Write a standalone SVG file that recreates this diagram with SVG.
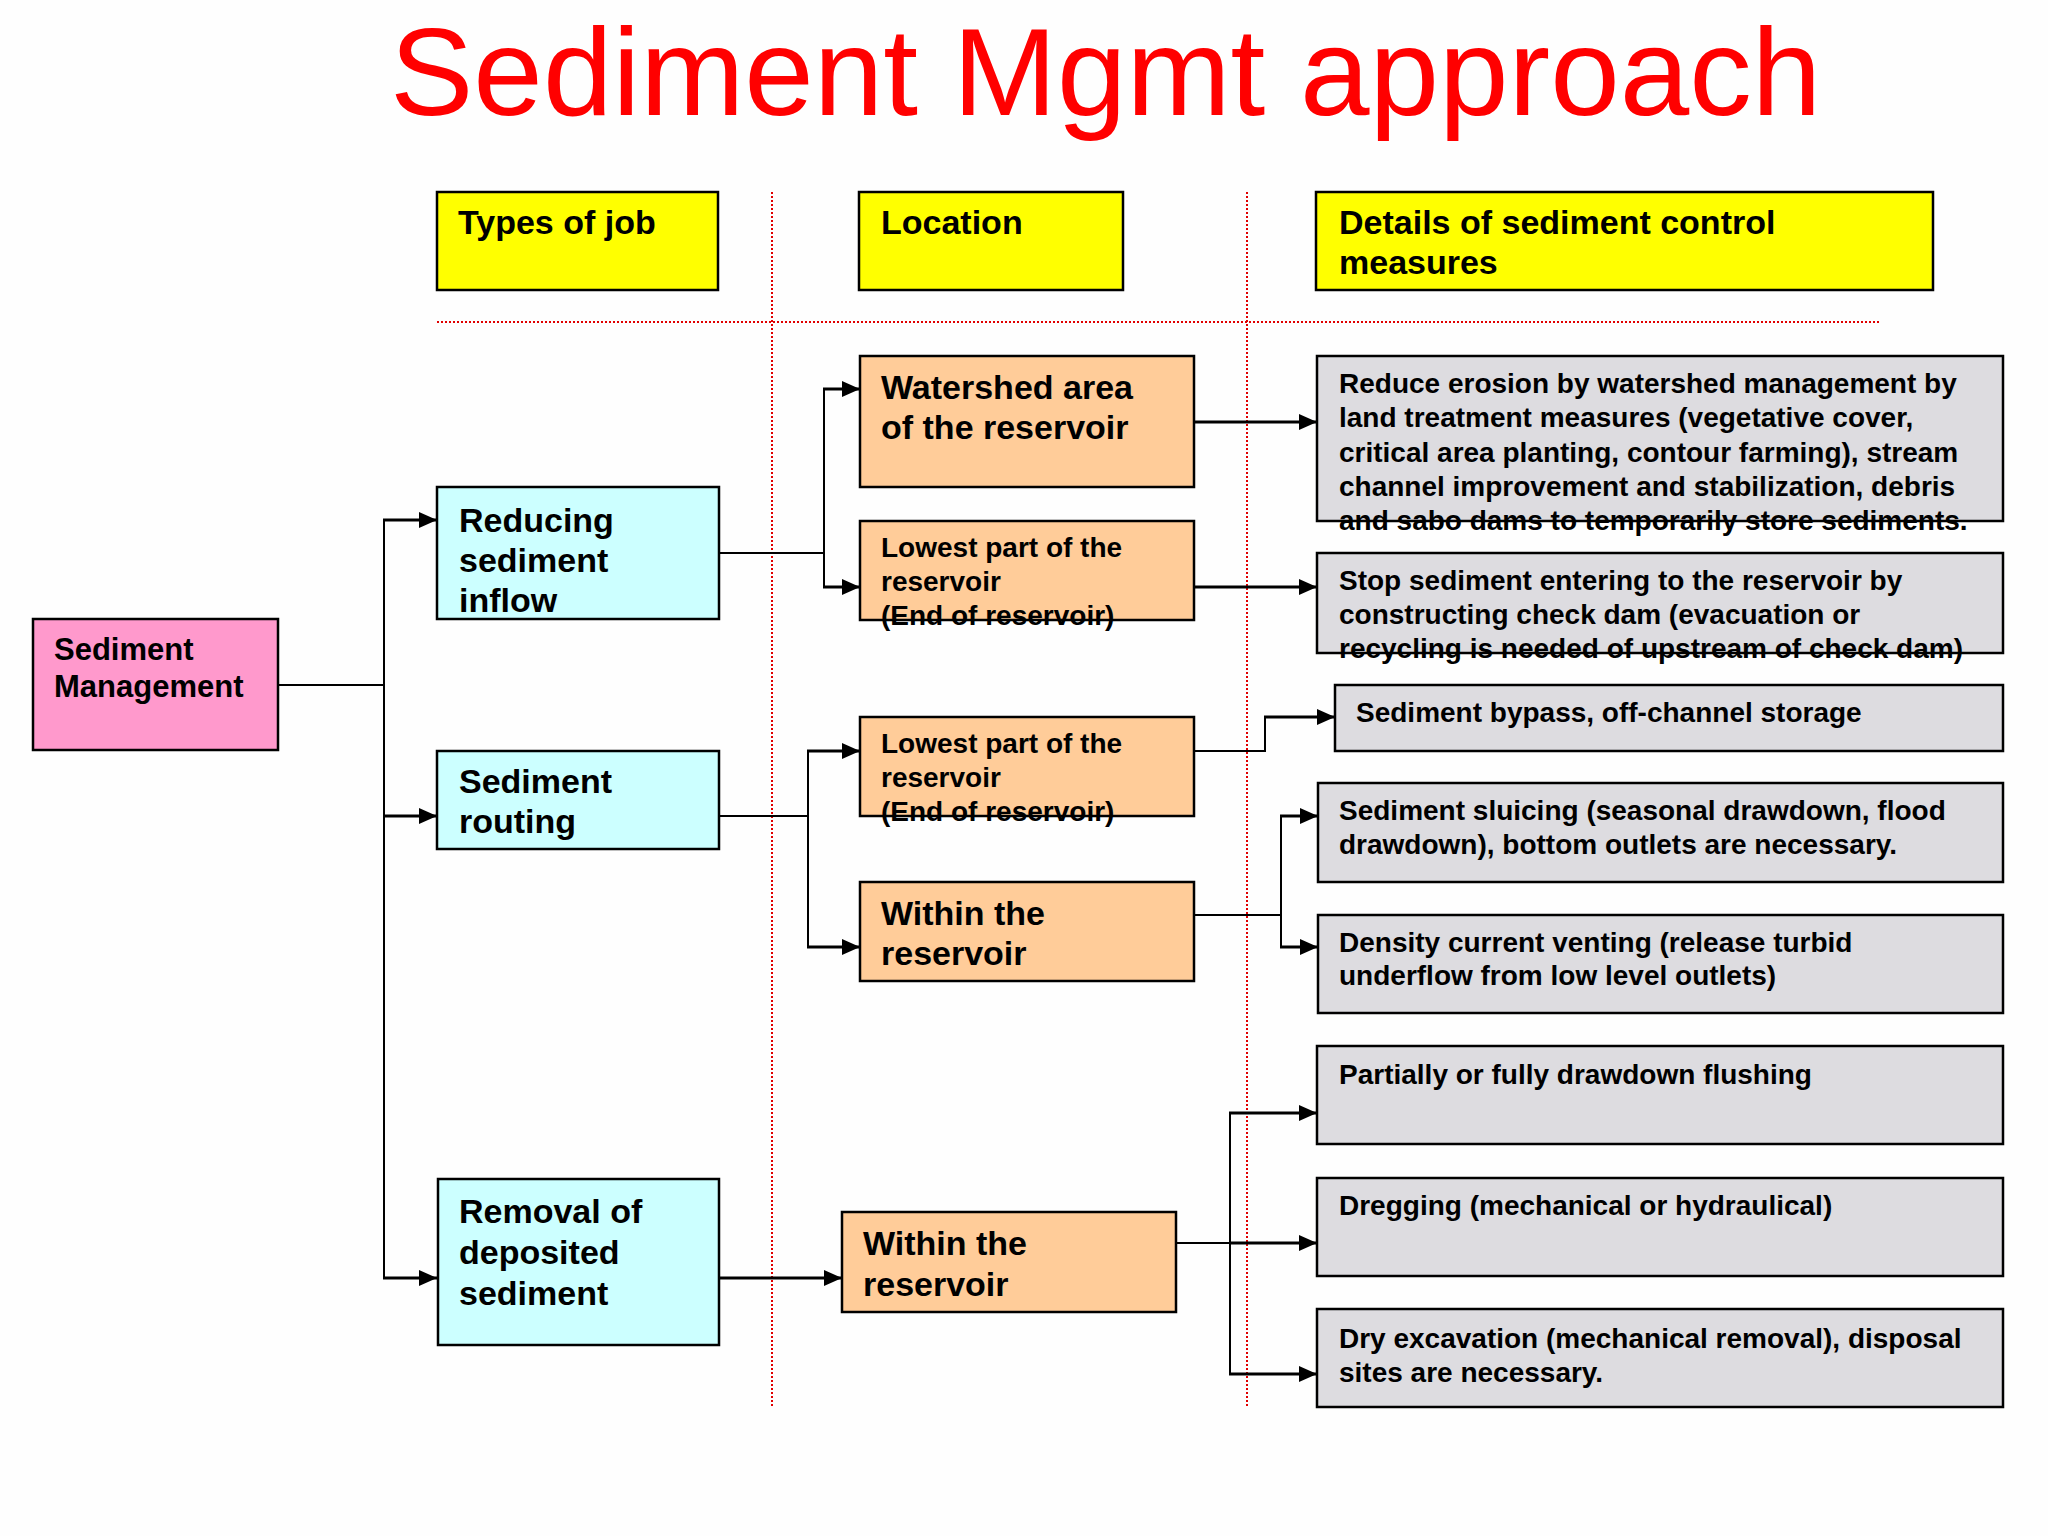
<svg xmlns="http://www.w3.org/2000/svg" width="2048" height="1536" viewBox="0 0 2048 1536">
<defs>
<marker id="ah" markerUnits="userSpaceOnUse" viewBox="0 0 18 16" refX="18" refY="8" markerWidth="18" markerHeight="16" orient="auto">
<path d="M0,0 L18,8 L0,16 z" fill="#000"/>
</marker>
</defs>
<style>
text{font-family:"Liberation Sans",Arial,sans-serif;font-weight:bold;fill:#000}
.title{font-weight:normal;fill:#FF0000;font-size:125px}
.box{stroke:#000;stroke-width:2.5}
.hdr{fill:#FFFF00}
.pink{fill:#FF99CC}
.cyan{fill:#CCFFFF}
.orange{fill:#FFCC99}
.gray{fill:#DDDCE0}
.t34{font-size:34px}
.t31{font-size:31px}
.t28{font-size:28px}
.dot{stroke:#E00000;stroke-width:2;stroke-dasharray:2 2;fill:none}
.ln{stroke:#000;stroke-width:2;fill:none}
.ar{stroke:#000;stroke-width:3;fill:none;marker-end:url(#ah)}
</style>
<rect width="2048" height="1536" fill="#FEFEFE"/>
<text class="title" x="390" y="115">Sediment Mgmt approach</text>

<g id="guides">
<line class="dot" x1="437" y1="322" x2="1881" y2="322"/>
<line class="dot" x1="772" y1="192" x2="772" y2="1408"/>
<line class="dot" x1="1247" y1="192" x2="1247" y2="1408"/>
</g>

<g id="hdr-types"><rect class="box hdr" x="437" y="192" width="281" height="98"/><text class="t34" x="458" y="234">Types of job</text></g>
<g id="hdr-location"><rect class="box hdr" x="859" y="192" width="264" height="98"/><text class="t34" x="881" y="234">Location</text></g>
<g id="hdr-details"><rect class="box hdr" x="1316" y="192" width="617" height="98"/><text class="t34" x="1339" y="234">Details of sediment control</text><text class="t34" x="1339" y="274">measures</text></g>

<g id="connectors">
<line class="ln" x1="278" y1="685" x2="384" y2="685"/>
<line class="ln" x1="384" y1="520" x2="384" y2="1278"/>
<line class="ar" x1="383" y1="520" x2="437" y2="520"/>
<line class="ar" x1="383" y1="816" x2="437" y2="816"/>
<line class="ar" x1="383" y1="1278" x2="437" y2="1278"/>

<line class="ln" x1="719" y1="553" x2="824" y2="553"/>
<line class="ln" x1="824" y1="389" x2="824" y2="587"/>
<line class="ar" x1="823" y1="389" x2="860" y2="389"/>
<line class="ar" x1="823" y1="587" x2="860" y2="587"/>

<line class="ar" x1="1194" y1="422" x2="1317" y2="422"/>
<line class="ar" x1="1194" y1="587" x2="1317" y2="587"/>

<line class="ln" x1="719" y1="816" x2="808" y2="816"/>
<line class="ln" x1="808" y1="751" x2="808" y2="947"/>
<line class="ar" x1="807" y1="751" x2="860" y2="751"/>
<line class="ar" x1="807" y1="947" x2="860" y2="947"/>

<polyline class="ln" points="1194,751 1265,751 1265,717"/>
<line class="ar" x1="1264" y1="717" x2="1335" y2="717"/>

<line class="ln" x1="1194" y1="915" x2="1281" y2="915"/>
<line class="ln" x1="1281" y1="816" x2="1281" y2="947"/>
<line class="ar" x1="1280" y1="816" x2="1318" y2="816"/>
<line class="ar" x1="1280" y1="947" x2="1318" y2="947"/>

<line class="ar" x1="719" y1="1278" x2="842" y2="1278"/>

<line class="ln" x1="1176" y1="1243" x2="1230" y2="1243"/>
<line class="ln" x1="1230" y1="1113" x2="1230" y2="1374"/>
<line class="ar" x1="1229" y1="1113" x2="1317" y2="1113"/>
<line class="ar" x1="1229" y1="1243" x2="1317" y2="1243"/>
<line class="ar" x1="1229" y1="1374" x2="1317" y2="1374"/>
</g>

<g id="sediment-management"><rect class="box pink" x="33" y="619" width="245" height="131"/><text class="t31" x="54" y="660">Sediment</text><text class="t31" x="54" y="697">Management</text></g>

<g id="reducing"><rect class="box cyan" x="437" y="487" width="282" height="132"/><text class="t34" x="459" y="532">Reducing</text><text class="t34" x="459" y="572">sediment</text><text class="t34" x="459" y="612">inflow</text></g>
<g id="routing"><rect class="box cyan" x="437" y="751" width="282" height="98"/><text class="t34" x="459" y="793">Sediment</text><text class="t34" x="459" y="833">routing</text></g>
<g id="removal"><rect class="box cyan" x="438" y="1179" width="281" height="166"/><text class="t34" x="459" y="1223">Removal of</text><text class="t34" x="459" y="1264">deposited</text><text class="t34" x="459" y="1305">sediment</text></g>

<g id="watershed"><rect class="box orange" x="860" y="356" width="334" height="131"/><text class="t34" x="881" y="399">Watershed area</text><text class="t34" x="881" y="439">of the reservoir</text></g>
<g id="lowest1"><rect class="box orange" x="860" y="521" width="334" height="99"/><text class="t28" x="881" y="557">Lowest part of the</text><text class="t28" x="881" y="591">reservoir</text><text class="t28" x="881" y="625">(End of reservoir)</text></g>
<g id="lowest2"><rect class="box orange" x="860" y="717" width="334" height="99"/><text class="t28" x="881" y="753">Lowest part of the</text><text class="t28" x="881" y="787">reservoir</text><text class="t28" x="881" y="821">(End of reservoir)</text></g>
<g id="within2"><rect class="box orange" x="860" y="882" width="334" height="99"/><text class="t34" x="881" y="925">Within the</text><text class="t34" x="881" y="965">reservoir</text></g>
<g id="within3"><rect class="box orange" x="842" y="1212" width="334" height="100"/><text class="t34" x="863" y="1255">Within the</text><text class="t34" x="863" y="1296">reservoir</text></g>

<g id="detail-watershed"><rect class="box gray" x="1317" y="356" width="686" height="165"/>
<text class="t28" x="1339" y="393">Reduce erosion by watershed management by</text>
<text class="t28" x="1339" y="427">land treatment measures (vegetative cover,</text>
<text class="t28" x="1339" y="462">critical area planting, contour farming), stream</text>
<text class="t28" x="1339" y="496">channel improvement and stabilization, debris</text>
<text class="t28" x="1339" y="530">and sabo dams to temporarily store sediments.</text></g>
<g id="detail-checkdam"><rect class="box gray" x="1317" y="553" width="686" height="100"/>
<text class="t28" x="1339" y="590">Stop sediment entering to the reservoir by</text>
<text class="t28" x="1339" y="624">constructing check dam (evacuation or</text>
<text class="t28" x="1339" y="658">recycling is needed of upstream of check dam)</text></g>
<g id="detail-bypass"><rect class="box gray" x="1335" y="685" width="668" height="66"/>
<text class="t28" x="1356" y="722">Sediment bypass, off-channel storage</text></g>
<g id="detail-sluicing"><rect class="box gray" x="1318" y="783" width="685" height="99"/>
<text class="t28" x="1339" y="820">Sediment sluicing (seasonal drawdown, flood</text>
<text class="t28" x="1339" y="854">drawdown), bottom outlets are necessary.</text></g>
<g id="detail-venting"><rect class="box gray" x="1318" y="915" width="685" height="98"/>
<text class="t28" x="1339" y="952">Density current venting (release turbid</text>
<text class="t28" x="1339" y="985">underflow from low level outlets)</text></g>
<g id="detail-flushing"><rect class="box gray" x="1317" y="1046" width="686" height="98"/>
<text class="t28" x="1339" y="1084">Partially or fully drawdown flushing</text></g>
<g id="detail-dredging"><rect class="box gray" x="1317" y="1178" width="686" height="98"/>
<text class="t28" x="1339" y="1215">Dregging (mechanical or hydraulical)</text></g>
<g id="detail-excavation"><rect class="box gray" x="1317" y="1309" width="686" height="98"/>
<text class="t28" x="1339" y="1348">Dry excavation (mechanical removal), disposal</text>
<text class="t28" x="1339" y="1382">sites are necessary.</text></g>
</svg>
